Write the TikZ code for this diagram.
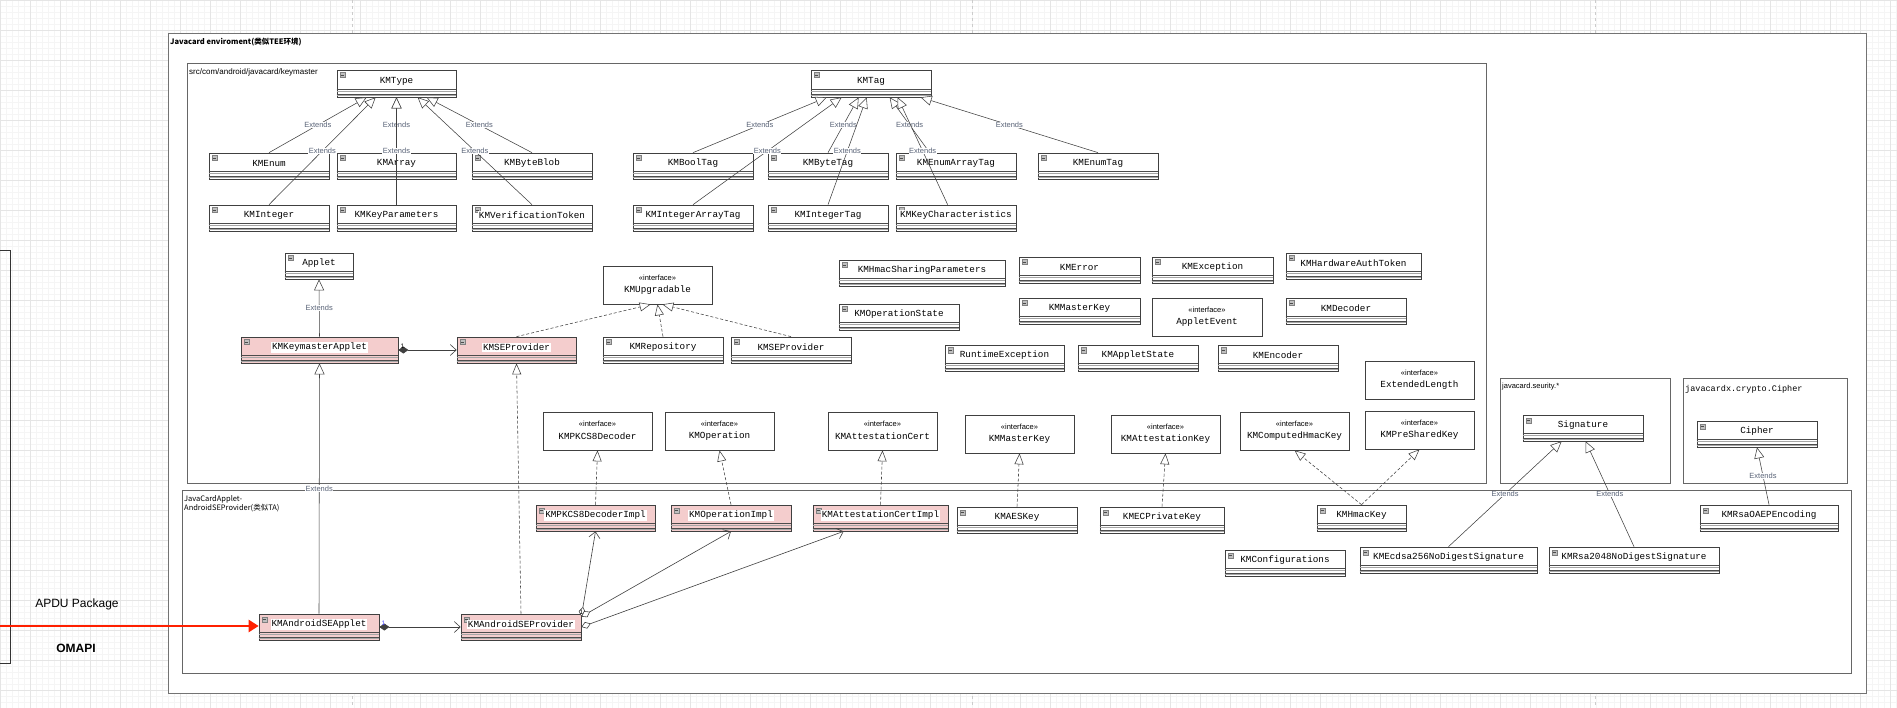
\documentclass[tikz,border=0pt]{standalone}
\usepackage{fontspec}
\setmainfont{Liberation Sans}
\setmonofont{Liberation Mono}
\newfontfamily\cjk{Noto Sans CJK SC}
\usetikzlibrary{arrows.meta}
\definecolor{redfill}{HTML}{F4CDCD}
\definecolor{redline}{HTML}{B86A66}
\definecolor{extc}{HTML}{5A6478}
\tikzset{
  clsb/.style={draw=black!75, line width=0.7pt, inner sep=0},
  cline/.style={draw=black!70, line width=0.6pt},
  clsfont/.style={font=\ttfamily\fontsize{9.3}{10}\selectfont, inner sep=1pt},
  ext/.style={draw=black!75, line width=0.55pt, -{Triangle[length=11pt,width=10pt,fill=white]}},
  real/.style={draw=black!75, line width=0.55pt, dash pattern=on 3pt off 2pt, -{Triangle[length=11pt,width=9pt,fill=white]}},
  comp/.style={draw=black!75, line width=0.6pt, {Diamond[length=10pt,width=7pt]}-{Straight Barb[length=6pt,width=11pt]}},
  aggr/.style={draw=black!75, line width=0.6pt, {Diamond[length=10pt,width=7pt,fill=white]}-{Straight Barb[length=6pt,width=11pt]}},
  elbl/.style={font=\fontsize{7.5}{8}\selectfont, text=extc, fill=white, inner sep=0.6pt},
  pkg/.style={draw=black!60, line width=1.1pt, fill=white},
  one/.style={font=\fontsize{6.5}{7}\selectfont, inner sep=0},
}
% class box: [fill]{name}{x1}{y1}{x2}{y2}{text}
\newcommand\kmc[7][white]{%
  \node[clsb, fill=#1, minimum width={(#5-#3)*1pt}, minimum height={(#6-#4)*1pt}] (#2) at ({(#3+#5)/2},{(#4+#6)/2}) {};
  \draw[cline] ([yshift=8pt]#2.south west) -- ([yshift=8pt]#2.south east);
  \draw[cline,black!35] ([yshift=6.5pt]#2.south west) -- ([yshift=6.5pt]#2.south east);
  \draw[cline] ([yshift=3.5pt]#2.south west) -- ([yshift=3.5pt]#2.south east);
  \draw[cline,black!35] ([yshift=2pt]#2.south west) -- ([yshift=2pt]#2.south east);
  \draw[draw=black!50, fill=black!25, line width=0.3pt] ([xshift=3pt,yshift=-3pt]#2.north west) rectangle ++(5pt,-5pt);
  \draw[black!70, line width=0.4pt] ([xshift=4pt,yshift=-5.5pt]#2.north west) -- ++(3pt,0);
  \node[clsfont, fill=white] (#2-t) at ({(#3+#5)/2},{#4+(#6-#4-8)/2+1.5}) {#7};
}
% interface box: {name}{x1}{y1}{x2}{y2}{text}
\newcommand\kmi[6]{%
  \node[clsb, fill=white, minimum width={(#4-#2)*1pt}, minimum height={(#5-#3)*1pt}] (#1) at ({(#2+#4)/2},{(#3+#5)/2}) {};
  \node[font=\fontsize{7.5}{8}\selectfont, inner sep=0] (#1-s) at ({(#2+#4)/2},{#3+(#5-#3)*0.3}) {«interface»};
  \node[clsfont] (#1-t) at ({(#2+#4)/2},{#3+(#5-#3)*0.63}) {#6};
}
\begin{document}
\begin{tikzpicture}[x=1pt,y=-1pt]
\useasboundingbox (0,0) rectangle (1897,708);
\fill[white] (0,0) rectangle (1897,708);
\draw[black!4, line width=0.3pt, step=6pt] (0,0) grid (1897,708);
\draw[black!10, line width=0.4pt, step=30pt] (0,0) grid (1897,708);
\foreach \xx in {352,972,1595} {\draw[black!20, dashed] (\xx,0) -- (\xx,708);}
% left partial frame
\draw[black!80, line width=0.6pt] (-2,250) -- (10,250) -- (10,663) -- (-2,663);
% outer frame
\node[pkg, draw=black!55, line width=1.4pt, minimum width=1698pt, minimum height=660pt, anchor=north west] (env) at (168,33) {};
\node[font=\cjk\fontsize{7.5}{8}\selectfont\bfseries, anchor=north west, inner sep=1pt] (envl) at (169,37) {Javacard enviroment(类似TEE环境)};
\node[pkg, minimum width=1299pt, minimum height=420pt, anchor=north west] (kmpkg) at (187,63) {};
\node[font=\fontsize{8}{9}\selectfont, anchor=north west, inner sep=1pt] (kml) at (188,68) {src/com/android/javacard/keymaster};
\node[pkg, minimum width=1669pt, minimum height=183pt, anchor=north west] (tapkg) at (182,490) {};
\node[font=\cjk\fontsize{7.5}{9}\selectfont, anchor=north west, inner sep=1pt, align=left] (tal) at (183,494) {JavaCardApplet-\\AndroidSEProvider(类似TA)};
\node[pkg, minimum width=170pt, minimum height=105pt, anchor=north west] (secpkg) at (1500,378) {};
\node[font=\fontsize{7.5}{8}\selectfont, anchor=north west, inner sep=1pt] (secl) at (1501,382) {javacard.seurity.*};
\node[pkg, minimum width=164pt, minimum height=105pt, anchor=north west] (ciphpkg) at (1683,378) {};
\node[font=\ttfamily\fontsize{8.5}{9}\selectfont, anchor=north west, inner sep=1pt] (ciphl) at (1684,384) {javacardx.crypto.Cipher};

% left labels and red arrow
\node[font=\fontsize{12}{13}\selectfont] (apdu) at (77,604) {APDU Package};
\node[font=\fontsize{12}{13}\selectfont\bfseries] (omapi) at (76,648) {OMAPI};

% classes top
\kmc{KMType}{337}{70}{456}{97}{KMType}
\kmc{KMEnum}{209}{153}{329}{179}{KMEnum}
\kmc{KMArray}{337}{153}{456}{179}{KMArray}
\kmc{KMByteBlob}{472}{153}{592}{179}{KMByteBlob}
\kmc{KMInteger}{209}{205}{329}{231}{KMInteger}
\kmc{KMKeyParameters}{337}{205}{456}{231}{KMKeyParameters}
\kmc{KMVerificationToken}{472}{205}{592}{231}{KMVerificationToken}
\kmc{KMTag}{811}{70}{931}{97}{KMTag}
\kmc{KMBoolTag}{633}{153}{753}{179}{KMBoolTag}
\kmc{KMByteTag}{768}{153}{888}{179}{KMByteTag}
\kmc{KMEnumArrayTag}{896}{153}{1016}{179}{KMEnumArrayTag}
\kmc{KMEnumTag}{1038}{153}{1158}{179}{KMEnumTag}
\kmc{KMIntegerArrayTag}{633}{205}{753}{231}{KMIntegerArrayTag}
\kmc{KMIntegerTag}{768}{205}{888}{231}{KMIntegerTag}
\kmc{KMKeyCharacteristics}{896}{205}{1016}{231}{KMKeyCharacteristics}
\kmc{Applet}{285}{253}{353}{279}{Applet}
\kmi{KMUpgradable}{603}{266}{712}{304}{KMUpgradable}
\kmc[redfill]{KMKeymasterApplet}{241}{337}{398}{363}{KMKeymasterApplet}
\kmc[redfill]{KMSEProviderA}{457}{337}{576}{363}{KMSEProvider}
\kmc{KMRepository}{603}{337}{723}{363}{KMRepository}
\kmc{KMSEProviderB}{731}{337}{851}{363}{KMSEProvider}
\kmc{KMHmacSharingParameters}{839}{260}{1005}{286}{KMHmacSharingParameters}
\kmc{KMOperationState}{839}{304}{959}{330}{KMOperationState}
\kmc{KMError}{1019}{257}{1140}{283}{KMError}
\kmc{KMException}{1152}{257}{1273}{283}{KMException}
\kmc{KMHardwareAuthToken}{1286}{253}{1421}{279}{KMHardwareAuthToken}
\kmc{KMMasterKeyC}{1019}{298}{1140}{324}{KMMasterKey}
\kmi{AppletEvent}{1152}{298}{1262}{336}{AppletEvent}
\kmc{KMDecoder}{1286}{298}{1406}{324}{KMDecoder}
\kmc{RuntimeException}{945}{345}{1064}{371}{RuntimeException}
\kmc{KMAppletState}{1078}{345}{1198}{371}{KMAppletState}
\kmc{KMEncoder}{1218}{345}{1338}{371}{KMEncoder}
\kmi{ExtendedLength}{1365}{361}{1474}{399}{ExtendedLength}
\kmi{KMPKCS8Decoder}{543}{412}{652}{450}{KMPKCS8Decoder}
\kmi{KMOperation}{665}{412}{774}{450}{KMOperation}
\kmi{KMAttestationCert}{828}{412}{937}{450}{KMAttestationCert}
\kmi{KMMasterKeyI}{965}{415}{1074}{453}{KMMasterKey}
\kmi{KMAttestationKey}{1111}{415}{1220}{453}{KMAttestationKey}
\kmi{KMComputedHmacKey}{1240}{412}{1349}{450}{KMComputedHmacKey}
\kmi{KMPreSharedKey}{1365}{411}{1474}{449}{KMPreSharedKey}
\kmc{Signature}{1523}{415}{1643}{441}{Signature}
\kmc{Cipher}{1697}{421}{1817}{447}{Cipher}
% TA classes
\kmc[redfill]{KMPKCS8DecoderImpl}{536}{505}{655}{531}{KMPKCS8DecoderImpl}
\kmc[redfill]{KMOperationImpl}{671}{505}{791}{531}{KMOperationImpl}
\kmc[redfill]{KMAttestationCertImpl}{813}{505}{948}{531}{KMAttestationCertImpl}
\kmc{KMAESKey}{957}{507}{1077}{533}{KMAESKey}
\kmc{KMECPrivateKey}{1100}{507}{1224}{533}{KMECPrivateKey}
\kmc{KMHmacKey}{1317}{505}{1406}{531}{KMHmacKey}
\kmc{KMRsaOAEPEncoding}{1700}{505}{1838}{531}{KMRsaOAEPEncoding}
\kmc{KMConfigurations}{1225}{550}{1345}{576}{KMConfigurations}
\kmc{KMEcdsa}{1360}{547}{1537}{573}{KMEcdsa256NoDigestSignature}
\kmc{KMRsa}{1549}{547}{1719}{573}{KMRsa2048NoDigestSignature}
\kmc[redfill]{KMAndroidSEApplet}{259}{614}{379}{640}{KMAndroidSEApplet}
\kmc[redfill]{KMAndroidSEProvider}{461}{614}{581}{640}{KMAndroidSEProvider}

% red input arrow
\coordinate (inp) at (0,626);
\draw[draw=red!75!orange, line width=2.4pt, -{Triangle[length=10pt,width=12pt]}] (inp) -- (KMAndroidSEApplet.west |- inp);

% KMType generalizations
\draw[ext] (KMEnum.north) -- node[elbl,pos=.5] (x1) {Extends} ([xshift=30pt]KMType.south west);
\draw[ext] (KMInteger.north) -- node[elbl,pos=.5] (x2) {Extends} ([xshift=39pt]KMType.south west);
\draw[ext] (KMArray.north) -- node[elbl,pos=.5] (x3) {Extends} (KMType.south);
\draw[ext] (KMKeyParameters.north) -- node[elbl,pos=.5] (x4) {Extends} (KMType.south);
\draw[ext] (KMByteBlob.north) -- node[elbl,pos=.5] (x5) {Extends} ([xshift=90pt]KMType.south west);
\draw[ext] (KMVerificationToken.north) -- node[elbl,pos=.5] (x6) {Extends} ([xshift=81pt]KMType.south west);
% KMTag generalizations
\draw[ext] (KMBoolTag.north) -- node[elbl,pos=.5] (t1) {Extends} ([xshift=16pt]KMTag.south west);
\draw[ext] (KMIntegerArrayTag.north) -- node[elbl,pos=.5] (t2) {Extends} ([xshift=31pt]KMTag.south west);
\draw[ext] (KMByteTag.north) -- node[elbl,pos=.5] (t3) {Extends} ([xshift=48pt]KMTag.south west);
\draw[ext] (KMIntegerTag.north) -- node[elbl,pos=.5] (t4) {Extends} ([xshift=56pt]KMTag.south west);
\draw[ext] ([xshift=34pt]KMEnumArrayTag.north west) -- node[elbl,pos=.5] (t5) {Extends} ([xshift=79pt]KMTag.south west);
\draw[ext] ([xshift=52pt]KMKeyCharacteristics.north west) -- node[elbl,pos=.5] (t6) {Extends} ([xshift=87pt]KMTag.south west);
\draw[ext] (KMEnumTag.north) -- node[elbl,pos=.5] (t7) {Extends} ([xshift=110pt]KMTag.south west);
% Applet
\draw[ext] (KMKeymasterApplet.north) -- node[elbl,pos=.5] (a1) {Extends} (Applet.south);
\draw[ext] (KMAndroidSEApplet.north) -- node[elbl,pos=.5] (a2) {Extends} (KMKeymasterApplet.south);
% compositions
\draw[comp] (KMKeymasterApplet.east) -- (KMSEProviderA.west);
\node[one, anchor=south west] (o1) at ([xshift=2pt,yshift=1pt]KMKeymasterApplet.east) {1};
\draw[comp] (KMAndroidSEApplet.east) -- (KMAndroidSEProvider.west);
\node[one, anchor=south west, text=blue!70] (o2) at ([xshift=2pt,yshift=1pt]KMAndroidSEApplet.east) {1};
% realizations
\draw[real] (KMAndroidSEProvider.north) -- (KMSEProviderA.south);
\draw[real] (KMSEProviderA.north) -- ([xshift=48pt]KMUpgradable.south west);
\draw[real] (KMRepository.north) -- (KMUpgradable.south);
\draw[real] (KMSEProviderB.north) -- ([xshift=-50pt]KMUpgradable.south east);
\draw[real] (KMPKCS8DecoderImpl.north) -- (KMPKCS8Decoder.south);
\draw[real] (KMOperationImpl.north) -- (KMOperation.south);
\draw[real] (KMAttestationCertImpl.north) -- (KMAttestationCert.south);
\draw[real] (KMAESKey.north) -- (KMMasterKeyI.south);
\draw[real] (KMECPrivateKey.north) -- (KMAttestationKey.south);
\draw[real] (KMHmacKey.north) -- (KMComputedHmacKey.south);
\draw[real] (KMHmacKey.north) -- (KMPreSharedKey.south);
% aggregations
\draw[aggr] ([yshift=-3pt]KMAndroidSEProvider.north east) -- (KMPKCS8DecoderImpl.south);
\draw[aggr] ([yshift=-3pt]KMAndroidSEProvider.north east) -- (KMOperationImpl.south);
\draw[aggr] (KMAndroidSEProvider.east) -- ([xshift=31pt]KMAttestationCertImpl.south west);
\node[one, anchor=south east] (o3) at ([xshift=2pt,yshift=-1pt]KMAndroidSEProvider.north east) {1};
% Signature and Cipher
\draw[ext] (KMEcdsa.north) -- node[elbl,pos=.5] (s1) {Extends} ([xshift=39pt]Signature.south west);
\draw[ext] (KMRsa.north) -- node[elbl,pos=.5] (s2) {Extends} ([xshift=63pt]Signature.south west);
\draw[ext] (KMRsaOAEPEncoding.north) -- node[elbl,pos=.5] (c1) {Extends} (Cipher.south);
\end{tikzpicture}
\end{document}
